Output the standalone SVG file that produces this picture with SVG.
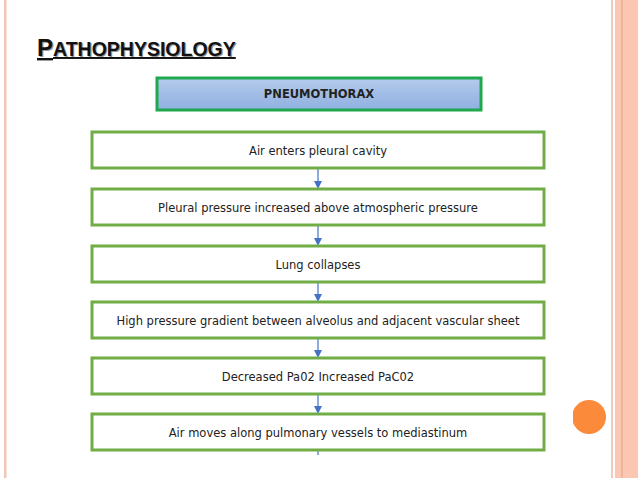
<svg xmlns="http://www.w3.org/2000/svg" width="638" height="478" viewBox="0 0 638 478">
<style>
.box{fill:#fff;stroke:#70ad47;stroke-width:3}
.t{font-family:"DejaVu Sans","Liberation Sans",sans-serif;font-size:11.5px;fill:#222;text-anchor:middle}
.c{stroke:#4472c4;stroke-width:1.2;fill:none}
</style>
<defs>
<linearGradient id="g" x1="0" y1="0" x2="0" y2="1"><stop offset="0" stop-color="#b4cbec"/><stop offset="1" stop-color="#8fb0e0"/></linearGradient>
<marker id="a" markerWidth="8" markerHeight="8" refX="4" refY="4" orient="auto" markerUnits="userSpaceOnUse"><path d="M0,0 L8,4 L0,8 Z" fill="#4472c4"/></marker>
</defs>
<rect width="638" height="478" fill="#fff"/>
<rect x="4" y="0" width="2.5" height="478" fill="#f4c6b6"/>
<rect x="611" y="0" width="2" height="478" fill="#f7c9b8"/>
<rect x="615" y="0" width="23" height="478" fill="#fbc6b2"/>
<rect x="621" y="0" width="2" height="478" fill="#efb49c"/>
<clipPath id="cc"><rect x="573" y="380" width="40" height="80"/></clipPath>
<circle cx="589" cy="417" r="17" fill="#fb8a3a" clip-path="url(#cc)"/>
<g id="title">
<text x="37" y="56" font-family="Liberation Sans,sans-serif" font-weight="bold" fill="#999" transform="translate(1.2,1.2)"><tspan font-size="24">P</tspan><tspan font-size="19.5">ATHOPHYSIOLOGY</tspan></text>
<text x="37" y="56" font-family="Liberation Sans,sans-serif" font-weight="bold" fill="#111" text-decoration="underline"><tspan font-size="24">P</tspan><tspan font-size="19.5">ATHOPHYSIOLOGY</tspan></text>
</g>
<g id="connectors">
<line class="c" x1="318" y1="168" x2="318" y2="185" marker-end="url(#a)"/>
<line class="c" x1="318" y1="225" x2="318" y2="242" marker-end="url(#a)"/>
<line class="c" x1="318" y1="282" x2="318" y2="298" marker-end="url(#a)"/>
<line class="c" x1="318" y1="338" x2="318" y2="354" marker-end="url(#a)"/>
<line class="c" x1="318" y1="394" x2="318" y2="410" marker-end="url(#a)"/>
<line class="c" x1="318" y1="450" x2="318" y2="455"/>
</g>
<g id="n0"><rect x="157" y="78" width="324" height="32" fill="url(#g)" stroke="#1fa84e" stroke-width="3"/><text class="t" x="319" y="98" font-weight="bold" font-size="11">PNEUMOTHORAX</text></g>
<g id="n1"><rect class="box" x="92" y="132" width="452" height="36"/><text class="t" x="318" y="155">Air enters pleural cavity</text></g>
<g id="n2"><rect class="box" x="92" y="189" width="452" height="36"/><text class="t" x="318" y="212">Pleural pressure increased above atmospheric pressure</text></g>
<g id="n3"><rect class="box" x="92" y="246" width="452" height="36"/><text class="t" x="318" y="269">Lung collapses</text></g>
<g id="n4"><rect class="box" x="92" y="302" width="452" height="36"/><text class="t" x="318" y="325">High pressure gradient between alveolus and adjacent vascular sheet</text></g>
<g id="n5"><rect class="box" x="92" y="358" width="452" height="36"/><text class="t" x="318" y="381">Decreased Pa02 Increased PaC02</text></g>
<g id="n6"><rect class="box" x="92" y="414" width="452" height="36"/><text class="t" x="318" y="437">Air moves along pulmonary vessels to mediastinum</text></g>
</svg>
